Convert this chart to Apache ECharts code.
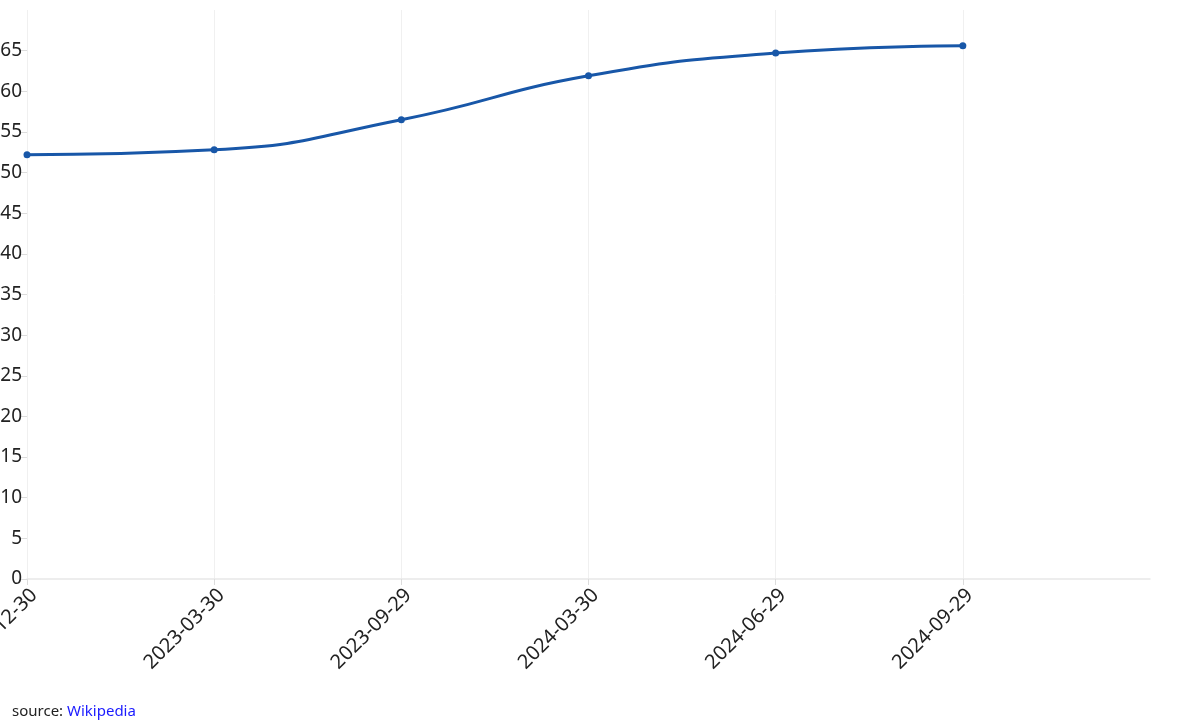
<!DOCTYPE html>
<html>
<head>
<meta charset="utf-8">
<script src="https://cdn.jsdelivr.net/npm/echarts@6/dist/echarts.min.js"></script>
<style>
html,body{margin:0;padding:0;background:#fff;}
#chart{width:1200px;height:720px;}
</style>
</head>
<body>
<div id="chart"></div>
<script>
var categories = ['2022-12-30', '2023-03-30', '2023-09-29', '2024-03-30', '2024-06-29', '2024-09-29', ''];
var values = [52.2, 52.8, 56.5, 61.9, 64.7, 65.6];
var yMin = 0, yMax = 70, yStep = 5;

var FONT = '"Noto Sans", sans-serif';
var chart = echarts.init(document.getElementById('chart'));
var notLast = function (i, v) { return v !== ''; };
chart.setOption({
  animation: false,
  title: {
    left: 7, top: 699,
    text: 'source: {l|Wikipedia}',
    textStyle: {
      fontFamily: FONT, fontSize: 15, fontWeight: 'normal', color: '#222',
      rich: { l: { fontFamily: FONT, fontSize: 15, color: '#1a1aff' } }
    }
  },
  grid: { left: 27, right: 50, top: 10, bottom: 141, containLabel: false, outerBoundsMode: 'none' },
  xAxis: {
    type: 'category',
    data: categories,
    boundaryGap: false,
    axisLine: { show: true, lineStyle: { color: '#e8e8e8', width: 1.5 } },
    axisTick: { show: true, length: 6, interval: notLast, lineStyle: { color: '#dcdcdc' } },
    splitLine: { show: true, interval: notLast, lineStyle: { color: '#f0f0f0', width: 1 } },
    axisLabel: {
      rotate: 45, margin: 6, interval: 0, verticalAlign: 'top',
      fontFamily: FONT, fontSize: 20, color: '#222'
    }
  },
  yAxis: {
    type: 'value',
    min: yMin, max: yMax, interval: yStep,
    axisLine: { show: false },
    axisTick: { show: true, length: 6, lineStyle: { color: '#dcdcdc' } },
    splitLine: { show: false },
    axisLabel: {
      showMaxLabel: false, margin: 5,
      fontFamily: FONT, fontSize: 19, color: '#222'
    }
  },
  series: [{
    type: 'line',
    data: values,
    smooth: true,
    symbol: 'circle',
    symbolSize: 7,
    lineStyle: { color: '#1857a8', width: 3 },
    itemStyle: { color: '#1857a8' }
  }]
});
</script>
</body>
</html>
